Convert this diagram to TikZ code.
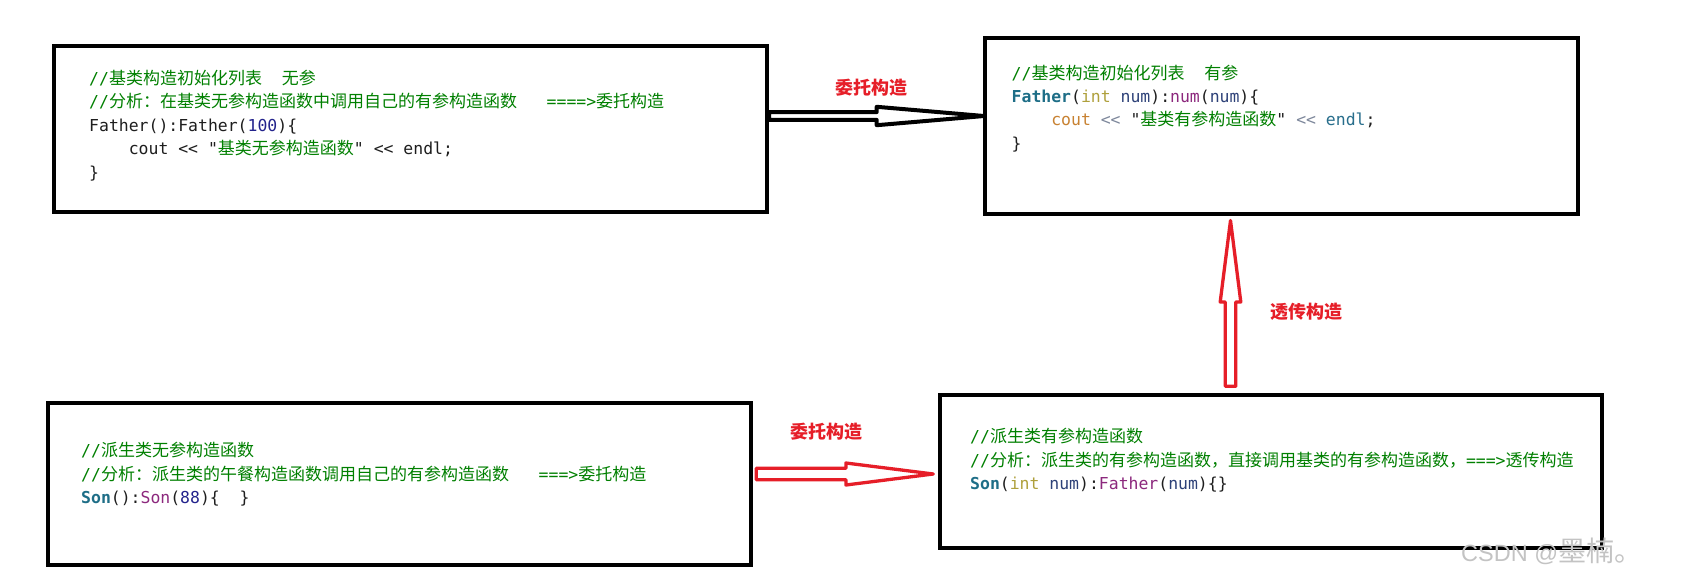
\documentclass[tikz,border=0pt]{standalone}
\usepackage{fontspec}
\usetikzlibrary{calc}
\newfontfamily\mono{DejaVu Sans Mono}
\newfontfamily\cjk{Noto Sans CJK SC}
\newfontfamily\wmfont{Liberation Sans}
\newcommand\zhc[1]{{\fontsize{17}{23.5}\cjk #1}}
\definecolor{cmt}{RGB}{0,128,0}
\definecolor{fg}{RGB}{30,30,30}
\definecolor{numc}{RGB}{35,35,140}
\definecolor{typec}{RGB}{30,110,135}
\definecolor{kwc}{RGB}{175,160,60}
\definecolor{parc}{RGB}{45,65,120}
\definecolor{fnc}{RGB}{140,40,125}
\definecolor{coutc}{RGB}{200,130,50}
\definecolor{opc}{RGB}{125,135,155}
\definecolor{endlc}{RGB}{40,110,140}
\definecolor{arrred}{RGB}{230,30,40}
\definecolor{wmgray}{RGB}{195,195,195}
\begin{document}
\begin{tikzpicture}[x=1pt,y=-1pt,
  box/.style={draw=black, line width=4pt, rectangle, inner sep=0pt},
  code/.style={anchor=base west, inner sep=0pt, text=fg, font=\fontsize{16.45}{23.5}\mono},
  lbl/.style={text=arrred, inner sep=0pt, font=\fontsize{18}{20}\cjk\bfseries},
  hblk/.style={draw=black, line width=4pt, line join=round, fill=white},
  hred/.style={draw=arrred, line width=3.3pt, line join=round, fill=white},
  wm/.style={anchor=base west, inner sep=0pt, text=wmgray, font=\fontsize{23.5}{28}\wmfont}]
\fill[white] (0,0) rectangle (1682,587);
\useasboundingbox (0,0) rectangle (1682,587);

% boxes
\node[box, minimum width=713pt, minimum height=166pt] (b1) at (410.5,129) {};
\node[box, minimum width=593pt, minimum height=176pt] (b2) at (1281.5,126) {};
\node[box, minimum width=703pt, minimum height=162pt] (b3) at (399.5,484) {};
\node[box, minimum width=662pt, minimum height=153pt] (b4) at (1271.3,471) {};

% box 1 text
\node[code, text=cmt] (t11) at (89,84) {//\zhc{基类构造初始化列表}~~\zhc{无参}};
\node[code, text=cmt] (t12) at (89,107.5) {//\zhc{分析：在基类无参构造函数中调用自己的有参构造函数}~~~====>\zhc{委托构造}};
\node[code] (t13) at (89,131) {Father():Father(\textcolor{numc}{100})\{};
\node[code] (t14) at (89,154.5) {~~~~cout~<<~"\textcolor{cmt}{\zhc{基类无参构造函数}}"~<<~endl;};
\node[code] (t15) at (89,178) {\}};

% box 2 text
\node[code, text=cmt] (t21) at (1011.5,79.2) {//\zhc{基类构造初始化列表}~~\zhc{有参}};
\node[code] (t22) at (1011.5,102.5) {{\bfseries\color{typec}Father}(\textcolor{kwc}{int}~\textcolor{parc}{num}):\textcolor{fnc}{num}(\textcolor{parc}{num})\{};
\node[code] (t23) at (1011.5,125.8) {~~~~\textcolor{coutc}{cout}~\textcolor{opc}{<<}~"\textcolor{cmt}{\zhc{基类有参构造函数}}"~\textcolor{opc}{<<}~\textcolor{endlc}{endl};};
\node[code] (t24) at (1011.5,149.1) {\}};

% box 3 text
\node[code, text=cmt] (t31) at (81,456.5) {//\zhc{派生类无参构造函数}};
\node[code, text=cmt] (t32) at (81,480) {//\zhc{分析：派生类的午餐构造函数调用自己的有参构造函数}~~~===>\zhc{委托构造}};
\node[code] (t33) at (81,503.5) {{\bfseries\color{typec}Son}():\textcolor{fnc}{Son}(\textcolor{numc}{88})\{~~\}};

% box 4 text
\node[code, text=cmt] (t41) at (970,442.5) {//\zhc{派生类有参构造函数}};
\node[code, text=cmt] (t42) at (970,466) {//\zhc{分析：派生类的有参构造函数，直接调用基类的有参构造函数，}===>\zhc{透传构造}};
\node[code] (t43) at (970,489.5) {{\bfseries\color{typec}Son}(\textcolor{kwc}{int}~\textcolor{parc}{num}):\textcolor{fnc}{Father}(\textcolor{parc}{num})\{\}};

% arrow 1: b1 -> b2 (black hollow)
\coordinate (a1s) at ($(b1.east)+(0,-13)$);
\coordinate (a1e) at ($(b2.west)+(1,-10)$);
\draw[hblk] ($(a1s)+(0,-3.9)$) -- ($(a1e)+(-107.3,-3.9)$) -- ($(a1e)+(-107.3,-9.2)$) -- (a1e)
  -- ($(a1e)+(-107.3,9.2)$) -- ($(a1e)+(-107.3,3.9)$) -- ($(a1s)+(0,3.9)$) -- cycle;
\node[lbl] (l1) at (871,88) {委托构造};

% arrow 2: b4 -> b2 (red hollow, upward)
\coordinate (a2s) at ($(b4.north)+(-40.8,-6.2)$);
\coordinate (a2e) at ($(b2.south)+(-51,4.5)$);
\draw[hred] ($(a2s)+(-5.3,0)$) -- ($(a2e)+(-5.3,81.5)$) -- ($(a2e)+(-10.3,81.5)$) -- (a2e)
  -- ($(a2e)+(10.3,81.5)$) -- ($(a2e)+(5.3,81.5)$) -- ($(a2s)+(5.3,0)$) -- cycle;
\node[lbl] (l2) at (1306,311.5) {透传构造};

% arrow 3: b3 -> b4 (red hollow)
\coordinate (a3s) at ($(b3.east)+(3.3,-10)$);
\coordinate (a3e) at ($(b4.west)+(-5,3)$);
\draw[hred] ($(a3s)+(0,-5.8)$) -- ($(a3e)+(-87.4,-5.8)$) -- ($(a3e)+(-87.4,-11)$) -- (a3e)
  -- ($(a3e)+(-87.4,11)$) -- ($(a3e)+(-87.4,5.8)$) -- ($(a3s)+(0,5.8)$) -- cycle;
\node[lbl] (l3) at (826,431.5) {委托构造};

% watermark
\node[wm] (wm) at (1461,561.7) {CSDN @{\fontsize{28}{30}\cjk 墨楠。}};
\end{tikzpicture}
\end{document}
